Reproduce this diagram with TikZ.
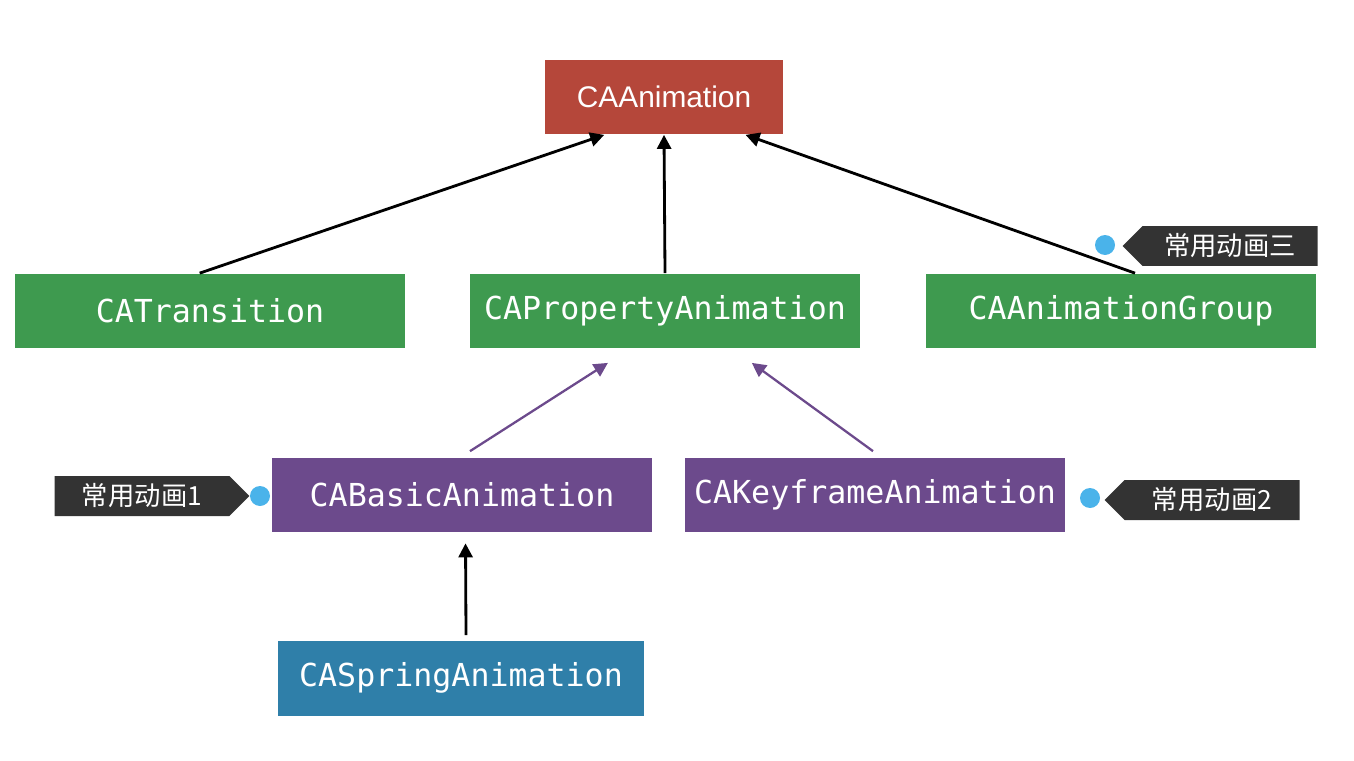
\documentclass[tikz,border=0pt]{standalone}
\usepackage{fontspec}
\setmainfont{Liberation Sans}
\newfontfamily\monofont{DejaVu Sans Mono}
\newfontfamily\cjk{Noto Sans CJK SC}
\usetikzlibrary{shapes.symbols,arrows.meta}

\definecolor{rootred}{HTML}{B5473A}
\definecolor{boxgreen}{HTML}{3E9A4F}
\definecolor{boxpurple}{HTML}{6C4A8C}
\definecolor{boxblue}{HTML}{2F7FA9}
\definecolor{dotblue}{HTML}{4AB3EA}

\begin{document}
\begin{tikzpicture}[x=0.02cm,y=-0.02cm]
  % Styles
  \tikzset{
    class/.style={minimum height=1.5cm,text=white,inner sep=0pt,
      font=\monofont\fontsize{18}{20}\selectfont},
    inherit/.style={line width=1.6pt,-{Triangle[length=8pt,width=8pt]}},
    tag/.style={signal,fill=black!80,text=white,minimum height=0.8cm,
      inner sep=2pt,font=\cjk\fontsize{15}{17}\selectfont},
    dot/.style={circle,fill=dotblue,minimum size=0.4cm,inner sep=0pt}
  }
  \useasboundingbox (0,0) rectangle (1354,760);

  % Classes
  \node[class,fill=rootred,minimum width=4.76cm,
        font=\fontsize{17}{20}\selectfont] (anim)   at (664,97)  {CAAnimation};
  \node[class,fill=boxgreen,minimum width=7.8cm]   (trans)  at (210,311) {CATransition};
  \node[class,fill=boxgreen,minimum width=7.8cm]   (prop)   at (665,311) {CAPropertyAnimation};
  \node[class,fill=boxgreen,minimum width=7.8cm]   (group)  at (1121,311){CAAnimationGroup};
  \node[class,fill=boxpurple,minimum width=7.62cm] (basic)  at (462,495) {CABasicAnimation};
  \node[class,fill=boxpurple,minimum width=7.6cm]  (key)    at (875,495) {CAKeyframeAnimation};
  \node[class,fill=boxblue,minimum width=7.34cm]   (spring) at (461,678) {CASpringAnimation};

  % Inheritance
  \draw[inherit] (trans.north west) ++(185,0) coordinate (t1) -- ([xshift=-34pt]anim.south);
  \draw[inherit] (prop.north) -- (anim.south);
  \draw[inherit] (group.north) ++(14,0) coordinate (g1) -- ([xshift=29\pgflinewidth]anim.south);
  \draw[inherit,boxpurple,line width=1.3pt] (basic.north) ++(8,-6) coordinate (b1) -- ([xshift=-25\pgflinewidth,yshift=-8pt]prop.south);
  \draw[inherit,boxpurple,line width=1.3pt] (key.north) ++(-2,-6) coordinate (k1) -- ([xshift=38\pgflinewidth,yshift=-8pt]prop.south);
  \draw[inherit] (spring.north) ++(5,-5) coordinate (s1) -- ([xshift=2pt,yshift=-6pt]basic.south);

  % Tags
  \node[tag,signal to=west,minimum width=3.9cm] (tag3) at (1230,246) {常用动画三};
  \node[dot] (dot3) at (1105,245) {};
  \node[tag,signal to=east,minimum width=3.9cm] (tag1) at (142,496) {常用动画1};
  \node[dot] (dot1) at (260,496) {};
  \node[tag,signal to=west,minimum width=3.9cm] (tag2) at (1212,500) {常用动画2};
  \node[dot] (dot2) at (1090,498) {};
\end{tikzpicture}
\end{document}
